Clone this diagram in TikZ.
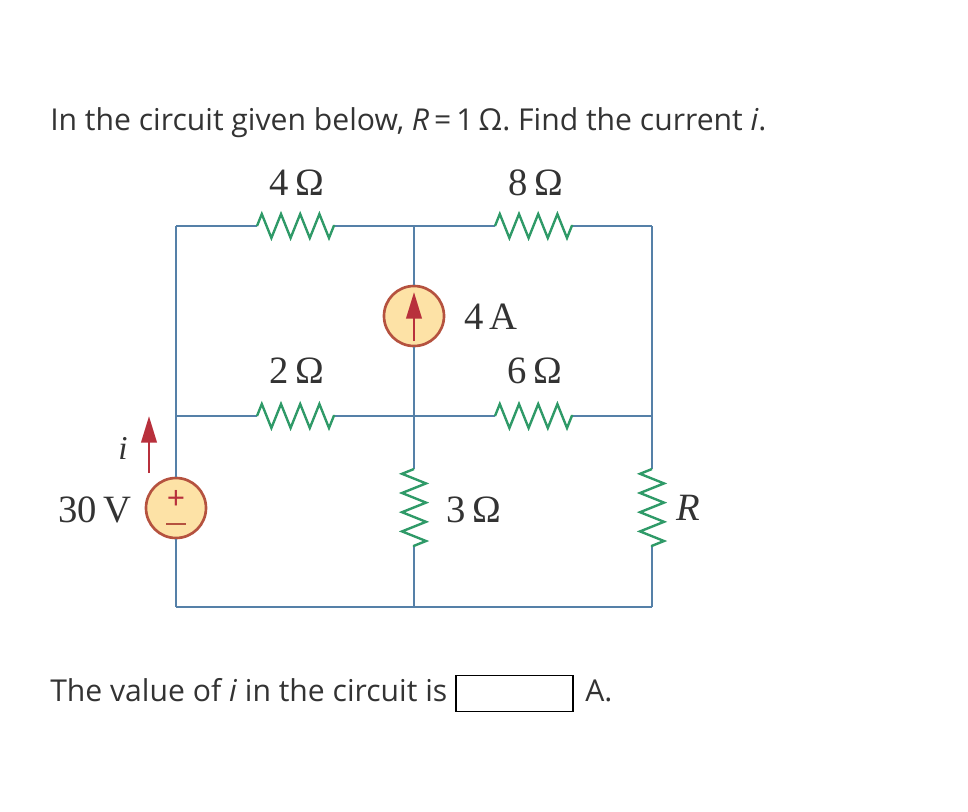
\documentclass[tikz,border=0pt]{standalone}
\usepackage{fontspec}
\setmainfont{Liberation Serif}
\setsansfont{Open Sans}
\usetikzlibrary{decorations.pathmorphing,arrows.meta}
\definecolor{wirecol}{HTML}{5580A8}
\definecolor{rescol}{HTML}{2F9A68}
\definecolor{redcol}{HTML}{B8303C}
\definecolor{srccol}{HTML}{FDE2A6}
\definecolor{rimcol}{HTML}{B5523F}
\definecolor{inkcol}{HTML}{333333}
\begin{document}
\begin{tikzpicture}[x=0.75pt,y=-0.75pt,
    wire/.style={draw=wirecol, line width=1.5pt},
    resistor/.style={draw=rescol, line width=1.8pt, decorate, decoration={zigzag, amplitude=9pt, segment length=14.4pt}},
    upright resistor/.style={resistor, decoration={zigzag, mirror, amplitude=9pt, segment length=14.4pt}},
    source node/.style={circle, draw=rimcol, fill=srccol, line width=2pt, minimum size=45pt, inner sep=0pt},
    value node/.style={font=\fontsize{29}{30}\selectfont, text=inkcol, inner sep=0pt},
    question node/.style={font=\sffamily\fontsize{22.6}{26}\selectfont, text=inkcol, inner sep=0pt, anchor=base west},
    current arrow/.style={draw=redcol, line width=2.2pt, -{Triangle[length=20pt,width=11.5pt]}}]
    \useasboundingbox (0,0) rectangle (968,811);

    % junctions
    \coordinate (tl) at (176,226);
    \coordinate (tm) at (414,226);
    \coordinate (tr) at (652,226);
    \coordinate (ml) at (176,416);
    \coordinate (mm) at (414,416);
    \coordinate (mr) at (652,416);
    \coordinate (bl) at (176,607);
    \coordinate (bm) at (414,607);
    \coordinate (br) at (652,607);

    % resistor ends
    \coordinate (r4a) at (257,226);
    \coordinate (r4b) at (335,226);
    \coordinate (r8a) at (495,226);
    \coordinate (r8b) at (573,226);
    \coordinate (r2a) at (257,416);
    \coordinate (r2b) at (335,416);
    \coordinate (r6a) at (495,416);
    \coordinate (r6b) at (573,416);
    \coordinate (r3a) at (414,547);
    \coordinate (r3b) at (414,469);
    \coordinate (rra) at (652,547);
    \coordinate (rrb) at (652,469);

    \node[source node] (vs) at (176,508) {};
    \node[source node] (cs) at (414,316) {};

    \path[wire]
      (bl) edge (vs)
      (vs) edge (tl)
      (tl) edge (r4a)
      (r4b) edge (r8a)
      (r8b) edge (tr)
      (tr) edge (rrb)
      (rra) edge (br)
      (br) edge (bl)
      (ml) edge (r2a)
      (r2b) edge (r6a)
      (r6b) edge (mr)
      (tm) edge (cs)
      (cs) edge (r3b)
      (r3a) edge (bm);

    \draw[resistor] (r4a) -- (r4b);
    \draw[resistor] (r8a) -- (r8b);
    \draw[resistor] (r2a) -- (r2b);
    \draw[resistor] (r6a) -- (r6b);
    \draw[upright resistor] (r3b) -- (r3a);
    \draw[upright resistor] (rrb) -- (rra);

    % polarity and arrows
    \node[text=redcol, font=\sffamily\fontsize{24}{24}\selectfont, inner sep=0pt] (plus) at (176,500) {+};
    \node[fill=rimcol, minimum width=15pt, minimum height=1.6pt, inner sep=0pt] (minus) at (176,524) {};
    \coordinate (csa) at (414,341);
    \coordinate (csb) at (414,292);
    \draw[current arrow] (csa) -- (csb);
    \coordinate (ia) at (149,473);
    \coordinate (ib) at (149,416);
    \draw[current arrow] (ia) -- (ib);

    % values
    \node[value node] (l4) at (297,183) {4\,Ω};
    \node[value node] (l8) at (536,183) {8\,Ω};
    \node[value node] (l2) at (297,371) {2\,Ω};
    \node[value node] (l6) at (535,371) {6\,Ω};
    \node[value node] (la) at (491,317) {4\,A};
    \node[value node] (l3) at (474,510) {3\,Ω};
    \node[value node] (lv) at (95,510) {30\,V};
    \node[value node, font=\fontsize{29}{30}\selectfont\itshape] (lr) at (688,508) {R};
    \node[value node, font=\fontsize{25}{30}\selectfont\itshape] (li) at (123,448) {i};

    % question
    \node[question node] (q1) at (50,130) {In the circuit given below, \textit{R}\,=\,1\,Ω. Find the current \textit{i}.};
    \node[question node] (q2) at (50,701) {The value of \textit{i} in the circuit is};
    \node[draw=black, line width=1.2pt, minimum width=88pt, minimum height=27pt, inner sep=0pt] (ans) at (514.5,693.5) {};
    \node[question node] (q3) at (585,701) {A.};
\end{tikzpicture}
\end{document}
